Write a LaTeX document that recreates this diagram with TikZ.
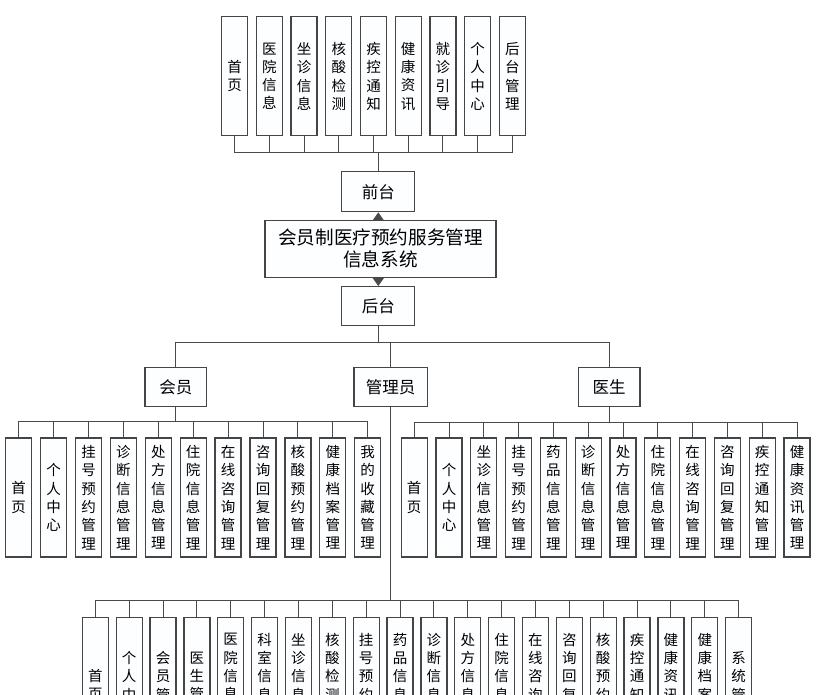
\documentclass[tikz,border=0pt]{standalone}
\usepackage{fontspec}
\newfontfamily\cjk{Noto Sans CJK SC}
\usetikzlibrary{arrows.meta}
\definecolor{bordc}{HTML}{454545}
\definecolor{linec}{HTML}{4A4A4A}
\definecolor{boxfill}{HTML}{FDFEFF}
\tikzset{
  vbox/.style={draw=bordc, fill=boxfill, line width=1.3pt, minimum width=26pt, minimum height=119pt, inner sep=0pt, align=center, font=\cjk\fontsize{14.5}{18.3}\selectfont},
  abox/.style={vbox, minimum height=136pt},
  hbox/.style={draw=bordc, fill=boxfill, line width=1.3pt, inner sep=0pt, align=center, font=\cjk\fontsize{16.5}{21}\selectfont},
  conn/.style={draw=linec, line width=1pt},
  arr/.style={conn, -{Triangle[length=8pt,width=11pt]}}
}
\begin{document}
\begin{tikzpicture}[x=1pt,y=-1pt]
\clip (0,0) rectangle (825,695);
\fill[white] (0,0) rectangle (825,695);
% top front boxes
\foreach \t [count=\i from 0] in {{首\\页},{医\\院\\信\\息},{坐\\诊\\信\\息},{核\\酸\\检\\测},{疾\\控\\通\\知},{健\\康\\资\\讯},{就\\诊\\引\\导},{个\\人\\中\\心},{后\\台\\管\\理}}{
  \node[vbox] (t\i) at ({234.7+34.7*\i},76.3) {\t};
}
\node[hbox, minimum width=73pt, minimum height=40pt] (qt) at (378.3,191.7) {前台};
\node[hbox, minimum width=231pt, minimum height=57pt, font=\cjk\fontsize{18.6}{22}\selectfont] (sys) at (380.5,248.7) {会员制医疗预约服务管理\\信息系统};
\node[hbox, minimum width=73pt, minimum height=39pt] (ht) at (378.3,306.2) {后台};
\coordinate (tb) at (378.3,152.3);
\foreach \i in {0,...,8}{ \draw[conn] (t\i.south) |- (tb); }
\draw[conn] (tb) -- (qt.north);
\draw[arr] (sys.north -| qt.south) -- (qt.south);
\draw[arr] (sys.south -| ht.north) -- (ht.north);
% roles
\node[hbox, minimum width=61.7pt, minimum height=39.4pt] (hy) at (175.8,387) {会员};
\node[hbox, minimum width=73.3pt, minimum height=39.4pt] (gl) at (390.7,387) {管理员};
\node[hbox, minimum width=61.7pt, minimum height=39.4pt] (ys) at (609.2,387) {医生};
\coordinate (rb) at (378.3,342.7);
\draw[conn] (ht.south) -- (rb);
\draw[conn] (hy.north) |- (rb);
\draw[conn] (gl.north) |- (rb);
\draw[conn] (ys.north) |- (rb);
% member children
\foreach \t [count=\i from 0] in {{首\\页},{个\\人\\中\\心},{挂\\号\\预\\约\\管\\理},{诊\\断\\信\\息\\管\\理},{处\\方\\信\\息\\管\\理},{住\\院\\信\\息\\管\\理},{在\\线\\咨\\询\\管\\理},{咨\\询\\回\\复\\管\\理},{核\\酸\\预\\约\\管\\理},{健\\康\\档\\案\\管\\理},{我\\的\\收\\藏\\管\\理}}{
  \node[vbox] (m\i) at ({18.7+34.9*\i},497.5) {\t};
}
\coordinate (mb) at (175.8,421.7);
\draw[conn] (hy.south) -- (mb);
\foreach \i in {0,...,10}{ \draw[conn] (m\i.north) |- (mb); }
% doctor children
\foreach \t [count=\i from 0] in {{首\\页},{个\\人\\中\\心},{坐\\诊\\信\\息\\管\\理},{挂\\号\\预\\约\\管\\理},{药\\品\\信\\息\\管\\理},{诊\\断\\信\\息\\管\\理},{处\\方\\信\\息\\管\\理},{住\\院\\信\\息\\管\\理},{在\\线\\咨\\询\\管\\理},{咨\\询\\回\\复\\管\\理},{疾\\控\\通\\知\\管\\理},{健\\康\\资\\讯\\管\\理}}{
  \node[vbox] (d\i) at ({414.2+34.8*\i},497.5) {\t};
}
\coordinate (db) at (609.2,422.3);
\draw[conn] (ys.south) -- (db);
\foreach \i in {0,...,11}{ \draw[conn] (d\i.north) |- (db); }
% admin children
\foreach \t [count=\i from 0] in {{首\\页},{个\\人\\中\\心},{会\\员\\管\\理},{医\\生\\管\\理},{医\\院\\信\\息\\管\\理},{科\\室\\信\\息\\管\\理},{坐\\诊\\信\\息\\管\\理},{核\\酸\\检\\测\\管\\理},{挂\\号\\预\\约\\管\\理},{药\\品\\信\\息\\管\\理},{诊\\断\\信\\息\\管\\理},{处\\方\\信\\息\\管\\理},{住\\院\\信\\息\\管\\理},{在\\线\\咨\\询\\管\\理},{咨\\询\\回\\复\\管\\理},{核\\酸\\预\\约\\管\\理},{疾\\控\\通\\知\\管\\理},{健\\康\\资\\讯\\管\\理},{健\\康\\档\\案\\管\\理},{系\\统\\管\\理}}{
  \node[abox] (a\i) at ({95.3+33.86*\i},685.3) {\t};
}
\coordinate (ab) at (390.7,600.7);
\draw[conn] (gl.south) -- (ab);
\foreach \i in {0,...,19}{ \draw[conn] (a\i.north) |- (ab); }
\end{tikzpicture}
\end{document}
